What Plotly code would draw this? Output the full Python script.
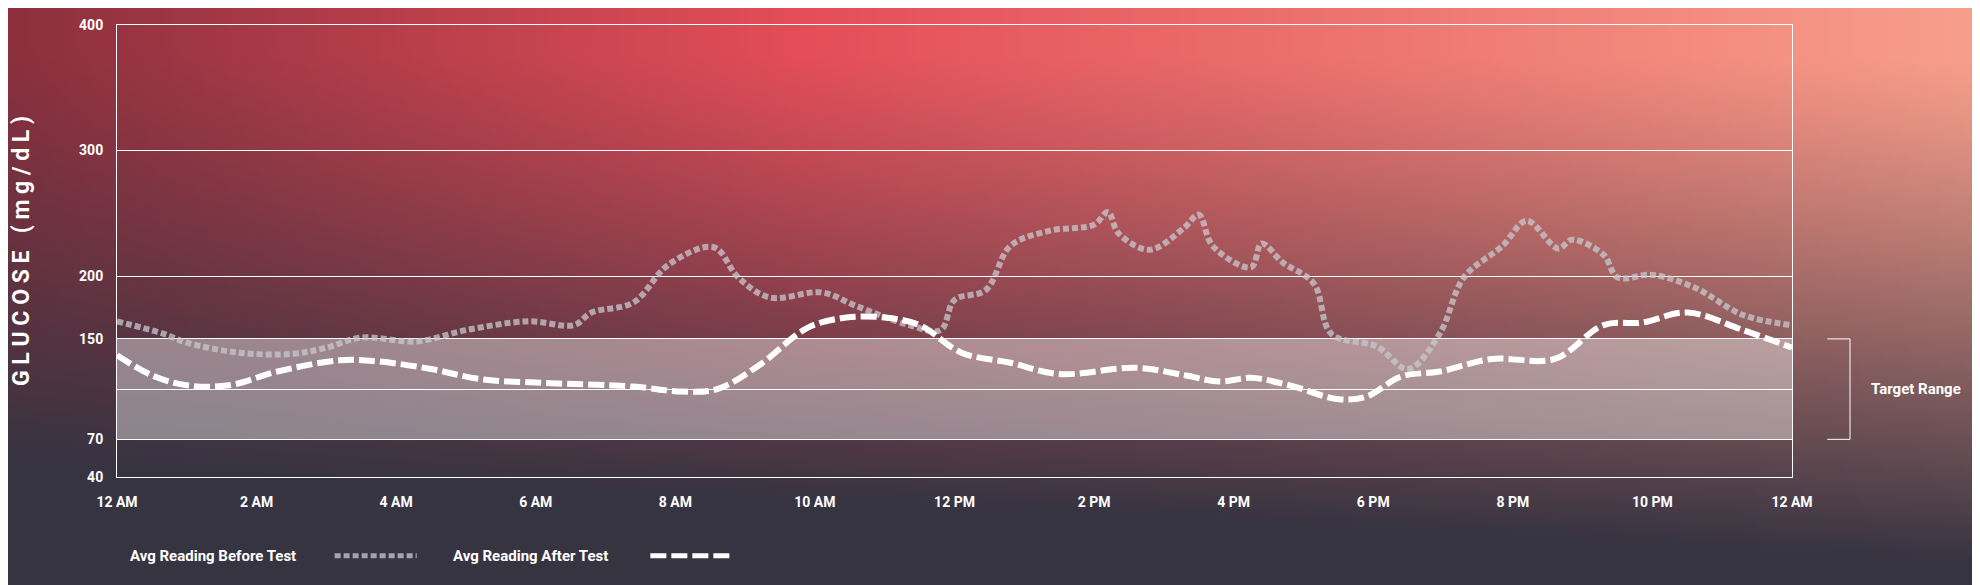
import base64, struct, zlib
import numpy as np
import plotly.graph_objects as go

# readings (hour of day, mg/dL)
before_h = [0, 0.67, 1, 1.75, 2.5, 3, 3.5, 4.3, 5, 5.9, 6.55, 6.8, 7.4, 7.9, 8.55, 8.9, 9.35, 10.1,
            10.6, 11.35, 11.8, 12, 12.45, 12.8, 13.35, 14, 14.2, 14.35, 14.8, 15.3, 15.5, 15.7, 16.25,
            16.4, 16.7, 17.15, 17.4, 18.05, 18.5, 18.95, 19.3, 19.85, 20.2, 20.65, 20.85, 21.3, 21.5,
            22, 22.6, 23.3, 24]
before_v = [164, 154, 147, 139, 138, 143, 151, 148, 157, 164, 161, 171, 179, 209, 223, 199, 183, 187,
            176, 161, 157, 181, 189, 224, 236, 241, 251, 234, 221, 239, 249, 224, 207,
            226, 211, 194, 154, 144, 126, 154, 199, 224, 244, 222, 229, 217, 199,
            201, 191, 169, 161]
after_h = [0, 0.5, 1, 1.6, 2.3, 3.2, 3.75, 4.5, 5.2, 6.1, 7.4, 8.1, 8.6, 9.2, 9.9, 10.45, 11, 11.5,
           12.1, 12.8, 13.5, 14.6, 15.3, 15.8, 16.25, 16.8, 17.5, 17.9, 18.4, 18.95, 19.7, 20.6,
           21.3, 21.85, 22.5, 23.3, 24]
after_v = [137, 121, 113, 113, 124, 133, 132, 126, 118, 115, 112, 108, 110, 129, 159, 167, 167, 161,
           139, 131, 122, 127, 121, 116, 119, 113, 102, 104, 120, 124, 134, 134,
           161, 163, 171, 157, 143]
x_ticks = list(range(0, 25, 2))
x_labels = ["12 AM", "2 AM", "4 AM", "6 AM", "8 AM", "10 AM", "12 PM", "2 PM", "4 PM",
            "6 PM", "8 PM", "10 PM", "12 AM"]
y_ticks = [40, 70, 110, 150, 200, 300, 400]
y_labels = ["40", "70", "", "150", "200", "300", "400"]
target = [70, 150]


def png_uri(arr):
    h, w, _ = arr.shape
    raw = b"".join(b"\x00" + arr[i].tobytes() for i in range(h))
    def chunk(t, d):
        c = struct.pack(">I", len(d)) + t + d
        return c + struct.pack(">I", zlib.crc32(t + d) & 0xffffffff)
    data = (b"\x89PNG\r\n\x1a\n" + chunk(b"IHDR", struct.pack(">IIBBBBB", w, h, 8, 2, 0, 0, 0))
            + chunk(b"IDAT", zlib.compress(raw)) + chunk(b"IEND", b""))
    return "data:image/png;base64," + base64.b64encode(data).decode()


# sunset backdrop
W, H = 400, 120
u = np.linspace(0, 1, W)[None, :, None]
t = np.linspace(0, 1, H)[:, None, None]
left = np.array([140, 48, 62]); mid = np.array([228, 78, 88]); right = np.array([248, 160, 140])
top = np.where(u < 0.4, left + (mid - left) * (u / 0.4), mid + (right - mid) * ((u - 0.4) / 0.6))
bottom = np.array([55, 52, 66])
w = np.clip(t * 1.15 - 0.1 + 0.25 * (1 - u) * t, 0, 1) ** 1.1
img = (top * (1 - w) + bottom * w).clip(0, 255).astype(np.uint8)

BEFORE_DASH = "6px,3px"
AFTER_DASH = "16px,5px"

fig = go.Figure()
fig.add_trace(go.Scatter(x=before_h, y=before_v, mode="lines", line=dict(color="rgba(200,200,205,0.75)", width=6, dash=BEFORE_DASH, shape="spline"), showlegend=False))
fig.add_trace(go.Scatter(x=after_h, y=after_v, mode="lines", line=dict(color="white", width=6, dash=AFTER_DASH, shape="spline"), showlegend=False))

fig.add_shape(type="rect", xref="x", yref="y", x0=0, x1=24, y0=target[0], y1=target[1],
              fillcolor="rgba(255,255,255,0.4)", line_width=0, layer="below")

# page body offset of 8px is compensated in the margins
OFF = 8
L, R = 117, 1792
PH = 585 - 25 - 108
def px(x):
    return (x * 1.2628 - L) / (R - L)

# target range bracket
for x0, x1, y0, y1 in [(1447, 1465, 150, 150), (1447, 1465, 70, 70), (1465, 1465, 70, 150)]:
    fig.add_shape(type="line", xref="paper", yref="y", x0=px(x0), x1=px(x1), y0=y0, y1=y1, line=dict(color="white", width=1))
fig.add_annotation(xref="paper", yref="y", x=px(1480), y=110, text="<b>Target Range</b>", showarrow=False,
                   xanchor="left", font=dict(color="white", size=15))

# legend drawn by hand
leg_y = -(440 * 1.2628 - 25 - PH) / PH
fig.add_annotation(xref="paper", yref="paper", x=px(101), y=leg_y, text="<b>Avg Reading Before Test</b>", showarrow=False,
                   xanchor="left", yanchor="middle", font=dict(color="white", size=15))
fig.add_shape(type="line", xref="paper", yref="paper", x0=px(265), x1=px(330), y0=leg_y, y1=leg_y,
              line=dict(color="rgba(200,200,205,0.75)", width=5, dash=BEFORE_DASH))
fig.add_annotation(xref="paper", yref="paper", x=px(357), y=leg_y, text="<b>Avg Reading After Test</b>", showarrow=False,
                   xanchor="left", yanchor="middle", font=dict(color="white", size=15))
fig.add_shape(type="line", xref="paper", yref="paper", x0=px(515), x1=px(578), y0=leg_y, y1=leg_y,
              line=dict(color="white", width=5, dash=AFTER_DASH))

fig.add_layout_image(source=png_uri(img), xref="paper", yref="paper", x=-(L - OFF) / (R - L), y=1 + (25 - OFF) / PH,
                     sizex=1980 / (R - L), sizey=585 / PH, sizing="stretch", layer="below", xanchor="left", yanchor="top")

fig.update_layout(
    width=1980, height=585, margin=dict(l=L - OFF, r=1980 - R + OFF, t=25 - OFF, b=108 + OFF),
    paper_bgcolor="#5a3a48", plot_bgcolor="rgba(0,0,0,0)",
    font=dict(family="Roboto", color="white"),
    xaxis=dict(range=[0, 24], tickvals=x_ticks, ticktext=["<b>%s</b>" % s for s in x_labels], showgrid=False,
               zeroline=False, showline=True, linecolor="white", mirror=True, tickfont=dict(size=14), ticks="",
               automargin=False, ticklabelstandoff=12),
    yaxis=dict(range=[40, 400], tickvals=y_ticks, ticktext=["<b>%s</b>" % s for s in y_labels],
               gridcolor="white", gridwidth=1, zeroline=False, showline=True, linecolor="white", mirror=True,
               tickfont=dict(size=14), automargin=False, ticklabelstandoff=10,
               title=dict(text="<b>G L U C O S E   ( m g / d L )</b>", font=dict(size=23), standoff=36)),
)
fig.write_html("out.html")
